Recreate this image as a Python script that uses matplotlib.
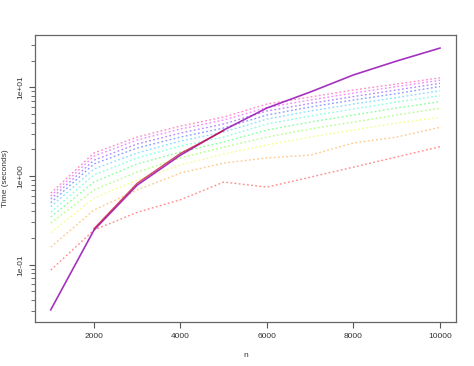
import colorsys
import numpy as np
import matplotlib
matplotlib.use('Agg')
import matplotlib.pyplot as plt
from matplotlib.ticker import FixedLocator, NullFormatter

n = [1000, 2000, 3000, 4000, 5000, 6000, 7000, 8000, 9000, 10000]

# dotted series, bottom (red) to top (pink)
dotted = [
    [0.087, 0.246, 0.39, 0.54, 0.855, 0.75, 0.97, 1.26, 1.64, 2.14],
    [0.158, 0.414, 0.695, 1.08, 1.40, 1.60, 1.72, 2.36, 2.75, 3.54],
    [0.23, 0.565, 0.90, 1.33, 1.77, 2.24, 2.75, 3.30, 3.96, 4.59],
    [0.295, 0.695, 1.11, 1.60, 2.12, 2.75, 3.39, 4.06, 4.87, 5.80],
    [0.345, 0.855, 1.37, 1.86, 2.42, 3.30, 4.06, 4.87, 5.85, 6.88],
    [0.39, 1.03, 1.60, 2.18, 2.75, 3.86, 4.75, 5.69, 6.83, 8.04],
    [0.45, 1.20, 1.82, 2.48, 3.13, 4.39, 5.41, 6.48, 7.67, 9.16],
    [0.50, 1.37, 2.07, 2.75, 3.48, 4.87, 6.00, 7.19, 8.51, 10.2],
    [0.55, 1.51, 2.30, 3.05, 3.86, 5.41, 6.57, 7.87, 9.33, 11.1],
    [0.595, 1.68, 2.55, 3.39, 4.28, 5.92, 7.19, 8.63, 10.2, 12.0],
    [0.64, 1.82, 2.75, 3.66, 4.62, 6.48, 7.78, 9.33, 10.9, 12.8],
]

# solid series (nearly identical, overlapping)
solid_red = [0.031, 0.255, 0.83, 1.80, 3.25, 5.85, 8.85, 13.8, 19.8, 27.7]
solid_violet = [0.031, 0.246, 0.79, 1.72, 3.30, 5.85, 8.85, 13.8, 19.8, 27.7]

cols = [colorsys.hsv_to_rgb(i / 11, 1, 1) for i in range(11)]

plt.rcParams['font.family'] = ['Liberation Sans', 'DejaVu Sans']
fig = plt.figure(figsize=(4.74, 3.66), dpi=100)
ax = fig.add_axes([35 / 474, 1 - 322 / 366, 421 / 474, 287 / 366])

for vals, c in zip(dotted, cols):
    ax.plot(n, vals, color=c, alpha=0.45, lw=1.0, linestyle=(0, (1.3, 1.7)))

ax.plot(n, solid_violet, color='#9a1cb8', lw=1.2, alpha=0.9)
ax.plot(n[1:5], solid_red[1:5], color='#c8102e', lw=1.0, alpha=0.75)

ax.set_yscale('log')
ax.set_xlim(636, 10370)
ax.set_ylim(0.0226, 38.9)

ax.set_xticks([2000, 4000, 6000, 8000, 10000])
ax.set_xticklabels(['2000', '4000', '6000', '8000', '10000'])
ax.yaxis.set_major_locator(FixedLocator([0.1, 1, 10]))
ax.set_yticklabels(['1e-01', '1e+00', '1e+01'], rotation=90, va='center')
minor = [m * d for d in (0.01, 0.1, 1, 10) for m in range(2, 10)]
ax.yaxis.set_minor_locator(FixedLocator(minor))
ax.yaxis.set_minor_formatter(NullFormatter())

ax.tick_params(axis='both', which='major', length=4, width=0.8, color='#555555',
               labelsize=6, labelcolor='#333333', pad=4)
ax.tick_params(axis='y', which='minor', length=3, width=0.6, color='#555555')
for s in ax.spines.values():
    s.set_color('#666666')
    s.set_linewidth(0.9)

ax.set_xlabel('n', fontsize=6, color='#333333')
ax.set_ylabel('Time (seconds)', fontsize=6, color='#333333')
ax.xaxis.set_label_coords(0.5, -30 / 287)
ax.yaxis.set_label_coords(-26 / 421, 0.5)

fig.savefig('out.png', dpi=100)
